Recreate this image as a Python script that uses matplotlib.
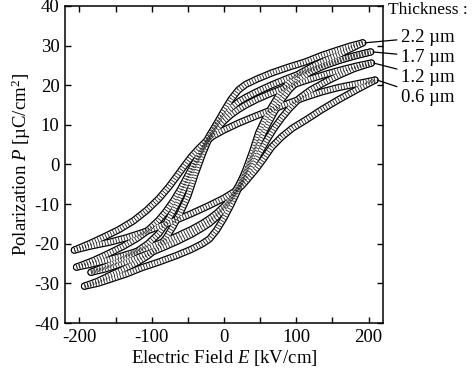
import matplotlib
matplotlib.use("Agg")
import matplotlib.pyplot as plt
from matplotlib.ticker import MultipleLocator

plt.rcParams['font.family'] = ['Liberation Serif', 'DejaVu Serif']
plt.rcParams['mathtext.fontset'] = 'custom'
plt.rcParams['mathtext.it'] = 'Liberation Serif:italic'
plt.rcParams['mathtext.rm'] = 'Liberation Serif'
plt.rcParams['axes.unicode_minus'] = False

thickness_labels = ["2.2 µm", "1.7 µm", "1.2 µm", "0.6 µm"]

# ---- 2.2 um loop ----
e22_up = [192, 175, 158, 135, 113, 90, 66, 45, 30, 20, 10, 0, -10, -20, -30, -40, -50, -60, -70, -80, -90, -105, -121, -140, -158, -175, -193]
p22_up = [30.7, 29.9, 28.9, 27.5, 25.9, 24.6, 23.1, 21.5, 20.2, 18.8, 16.5, 13.5, 10.3, 7.0, 2.5, -2.5, -8.0, -12.0, -15.5, -18.5, -20.7, -23.0, -24.8, -26.5, -28.0, -29.5, -30.7]
e22_lo = [-193, -175, -158, -135, -113, -90, -66, -45, -30, -20, -10, 0, 10, 21, 30, 40, 48, 57, 66, 77, 89, 105, 121, 140, 158, 175, 192]
p22_lo = [-30.7, -30.0, -29.0, -27.6, -26.0, -24.6, -23.0, -21.4, -20.0, -18.8, -16.5, -13.5, -10.0, -5.7, -1.5, 3.5, 8.0, 11.5, 14.5, 17.8, 20.6, 23.0, 24.6, 26.3, 27.6, 29.2, 30.7]

# ---- 1.7 um loop ----
e17_up = [203, 185, 165, 145, 125, 105, 85, 65, 45, 30, 20, 10, 0, -10, -20, -30, -40, -50, -60, -70, -80, -90, -105, -120, -140, -160, -184]
p17_up = [28.4, 27.6, 26.6, 25.5, 24.2, 22.9, 21.5, 20.0, 18.3, 16.9, 15.8, 14.3, 12.5, 10.2, 7.3, 3.8, 0.0, -4.0, -8.0, -11.6, -14.8, -17.4, -20.0, -21.9, -23.8, -25.5, -27.2]
e17_lo = [-184, -165, -145, -125, -105, -85, -65, -45, -30, -20, -10, 0, 10, 20, 30, 40, 50, 60, 70, 80, 90, 105, 120, 140, 160, 180, 203]
p17_lo = [-27.2, -26.4, -25.2, -23.9, -22.5, -21.0, -19.4, -17.6, -16.0, -14.8, -13.2, -11.2, -8.6, -5.4, -1.8, 2.2, 6.2, 10.0, 13.4, 16.4, 18.8, 21.6, 23.4, 25.0, 26.3, 27.4, 28.4]

# ---- 1.2 um loop ----
e12_up = [204, 185, 165, 145, 125, 105, 85, 65, 45, 30, 20, 10, 0, -10, -20, -30, -40, -50, -60, -70, -80, -90, -105, -120, -140, -160, -180, -204]
p12_up = [25.6, 24.9, 24.0, 23.0, 21.9, 20.7, 19.4, 18.0, 16.4, 15.0, 13.9, 12.6, 11.0, 9.0, 6.6, 3.8, 0.6, -2.8, -6.2, -9.2, -11.8, -14.0, -16.6, -18.6, -20.7, -22.5, -24.2, -25.9]
e12_lo = [-204, -185, -165, -145, -125, -105, -85, -65, -45, -30, -20, -10, 0, 10, 20, 30, 40, 50, 60, 70, 80, 90, 105, 120, 140, 160, 180, 204]
p12_lo = [-25.9, -25.2, -24.3, -23.3, -22.2, -21.0, -19.6, -18.1, -16.4, -14.9, -13.7, -12.3, -10.6, -8.5, -6.0, -3.2, -0.1, 3.2, 6.4, 9.3, 11.8, 14.0, 16.8, 18.8, 20.8, 22.6, 24.2, 25.6]

# ---- 0.6 um loop ----
e06_up = [209, 185, 158, 135, 113, 90, 66, 45, 21, 0, -15, -25, -35, -45, -55, -65, -76, -90, -107, -125, -145, -165, -185, -207]
p06_up = [21.3, 20.4, 19.4, 18.3, 17.0, 15.5, 13.8, 12.3, 10.5, 8.7, 7.2, 5.8, 4.0, 2.0, -0.4, -2.9, -5.6, -8.6, -11.6, -14.2, -16.4, -18.2, -19.9, -21.6]
e06_lo = [-207, -185, -158, -135, -113, -90, -66, -45, -21, 0, 15, 25, 34, 45, 55, 66, 80, 95, 113, 135, 158, 185, 209]
p06_lo = [-21.6, -20.6, -19.6, -18.5, -17.2, -15.7, -14.0, -12.4, -10.4, -8.5, -6.8, -5.3, -3.4, -1.0, 1.5, 4.4, 7.0, 9.2, 11.2, 13.8, 16.3, 19.0, 21.3]

branches = [
    (e22_up, p22_up), (e22_lo, p22_lo),
    (e17_up, p17_up), (e17_lo, p17_lo),
    (e12_up, p12_up), (e12_lo, p12_lo),
    (e06_up, p06_up), (e06_lo, p06_lo),
]
tips = [(e22_up[0], p22_up[0]), (e17_up[0], p17_up[0]),
        (e12_up[0], p12_up[0]), (e06_up[0], p06_up[0])]

fig = plt.figure(figsize=(4.74, 3.73), dpi=100)
ax = fig.add_axes([0.137, 0.134, 0.671, 0.850])

# each branch drawn as a chain of small open circles (tube with ladder texture)
for e, p in branches:
    ax.plot(e, p, color='black', lw=5.2, solid_capstyle='round',
            solid_joinstyle='round', zorder=2)
    ax.plot(e, p, color='white', lw=3.4, solid_capstyle='round',
            solid_joinstyle='round', zorder=3)
    ax.plot(e, p, color='#222222', lw=3.4, linestyle=(0, (0.18, 0.42)),
            dash_capstyle='butt', zorder=4)

ax.set_xlim(-220, 220)
ax.set_ylim(-40, 40)
ax.xaxis.set_major_locator(MultipleLocator(100))
ax.xaxis.set_minor_locator(MultipleLocator(50))
ax.yaxis.set_major_locator(MultipleLocator(10))
ax.tick_params(which='both', direction='in', top=True, right=True,
               length=4, width=1.0, labelsize=13.5, pad=4)
for s in ax.spines.values():
    s.set_linewidth(1.1)

ax.set_xlabel('Electric Field $E$ [kV/cm]', fontsize=13.5, labelpad=2)
ax.set_ylabel('Polarization $P$ [µC/cm$^2$]', fontsize=13.5, labelpad=1)

fig.text(0.818, 0.972, 'Thickness :', fontsize=12.5, ha='left', va='center')
label_pos = [(401, 37), (401, 57), (401, 77), (401, 97)]
W, H = 474, 373
for (ex, ep), lab, (lx, ly) in zip(tips, thickness_labels, label_pos):
    ax.annotate(lab, xy=(ex + 3, ep), xycoords='data',
                xytext=(lx / W, 1 - ly / H), textcoords='figure fraction',
                fontsize=13.5, ha='left', va='center',
                arrowprops=dict(arrowstyle='-', color='black', lw=0.9,
                                shrinkA=1, shrinkB=0),
                annotation_clip=False)

fig.savefig('out.png', dpi=100)
